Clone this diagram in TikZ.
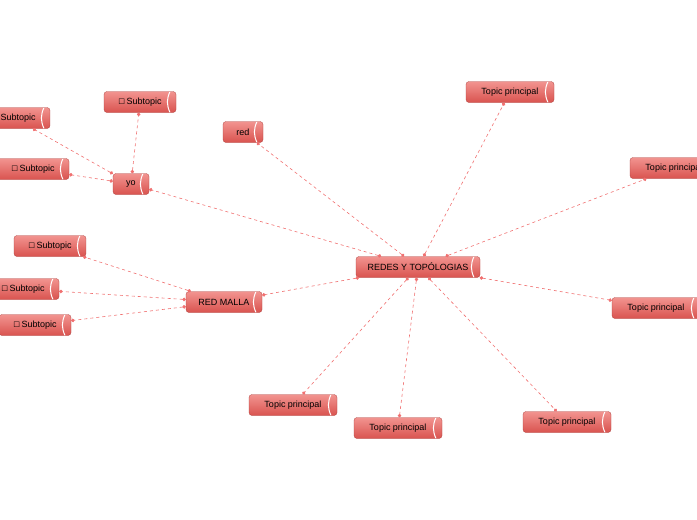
\documentclass[tikz,border=0pt]{standalone}
\usepackage{fontspec}
\setmainfont{Liberation Sans}
\newfontfamily\djv{DejaVu Sans}
\usetikzlibrary{arrows.meta}
\definecolor{nodetop}{HTML}{F29490}
\definecolor{nodebot}{HTML}{D9534F}
\definecolor{edgec}{HTML}{F07070}
\newcommand{\cb}{{\djv\fontsize{7.5}{8}\selectfont ☐}\,}
\tikzset{
  topicbox/.style={rectangle, rounded corners=3pt, top color=nodetop, bottom color=nodebot,
    draw=nodebot!80!black, line width=0.3pt, minimum height=21pt, inner xsep=8pt,
    font=\fontsize{9}{10}\selectfont, text=black,
    path picture={\draw[white,line width=1pt] ([xshift=-6pt]path picture bounding box.north east) to[bend right=25] ([xshift=-6pt]path picture bounding box.south east);}},
  link/.style={draw=edgec, dashed, line width=0.6pt, {Circle[length=3.5pt]}-{Circle[length=3.5pt]}}
}
\begin{document}
\begin{tikzpicture}[x=1pt,y=-1pt]
\useasboundingbox (0,0) rectangle (697,520);
\node[topicbox, minimum width=124pt] (main) at (418,267) {REDES Y TOPÓLOGIAS};
\node[topicbox, minimum width=36pt] (yo) at (131,184) {yo};
\node[topicbox, minimum width=40pt] (red) at (243,132) {red};
\node[topicbox, minimum width=72pt] (s1) at (140,102) {\cb Subtopic};
\node[topicbox, minimum width=72pt] (s2) at (14,118) {\cb Subtopic};
\node[topicbox, minimum width=72pt] (s3) at (33,169) {\cb Subtopic};
\node[topicbox, minimum width=76pt] (malla) at (224,302) {RED MALLA};
\node[topicbox, minimum width=72pt] (m1) at (50,246) {\cb Subtopic};
\node[topicbox, minimum width=72pt] (m2) at (23,289) {\cb Subtopic};
\node[topicbox, minimum width=72pt] (m3) at (35,325) {\cb Subtopic};
\node[topicbox, minimum width=88pt] (t1) at (510,92) {Topic principal};
\node[topicbox, minimum width=88pt] (t2) at (674,168) {Topic principal};
\node[topicbox, minimum width=88pt] (t3) at (656,308) {Topic principal};
\node[topicbox, minimum width=88pt] (t4) at (293,405) {Topic principal};
\node[topicbox, minimum width=88pt] (t5) at (398,428) {Topic principal};
\node[topicbox, minimum width=88pt] (t6) at (567,422) {Topic principal};
\foreach \n in {yo,red,malla,t1,t2,t3,t4,t5,t6} \draw[link] (main) -- (\n);
\foreach \n in {s1,s2,s3} \draw[link] (yo) -- (\n);
\foreach \n in {m1,m2,m3} \draw[link] (malla) -- (\n);
\end{tikzpicture}
\end{document}
